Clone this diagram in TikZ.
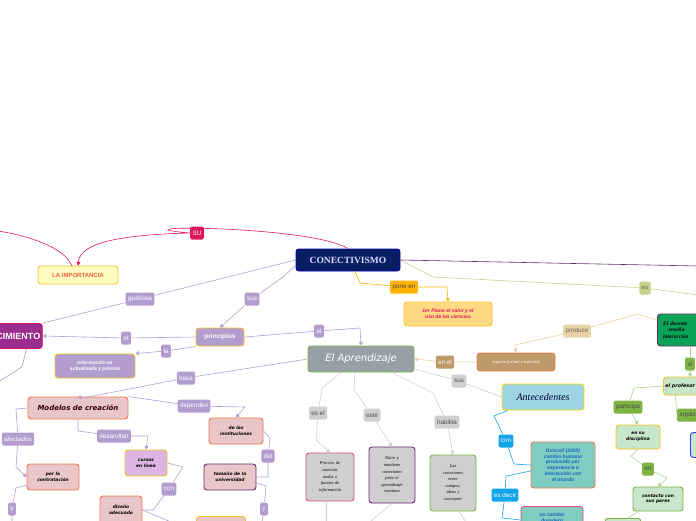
\documentclass[tikz,border=0pt]{standalone}
\usepackage{fontspec}
\setmainfont{Liberation Serif}
\setsansfont{Liberation Sans}
\newfontfamily\hand{DejaVu Sans}
\usetikzlibrary{arrows.meta}
\definecolor{lp}{HTML}{B39DCF}
\definecolor{lg}{HTML}{CFCFCF}
\definecolor{pk}{HTML}{E0195D}
\definecolor{cpink}{HTML}{E9C6C7}
\definecolor{orb}{HTML}{F07850}
\definecolor{yb}{HTML}{F5C321}
\definecolor{gr}{HTML}{7CB342}
\definecolor{lgr}{HTML}{C8E6C9}
\definecolor{tan}{HTML}{E8D2A6}
\definecolor{cy}{HTML}{12A5E8}
\definecolor{teal}{HTML}{7ECDC0}
\definecolor{dpur}{HTML}{6A2A72}
\definecolor{navy}{HTML}{0A1F63}
\definecolor{mag}{HTML}{9B2D8F}
\definecolor{gry}{HTML}{979FA8}
\definecolor{lil}{HTML}{DCB5E2}
\definecolor{ylw}{HTML}{FFD983}
\definecolor{brn}{HTML}{BE9A6A}
\definecolor{lbl}{HTML}{9FD4E3}
\definecolor{dblue}{HTML}{1565C0}
\definecolor{dgr}{HTML}{0BA456}
\definecolor{amb}{HTML}{FFB300}
\definecolor{olv}{HTML}{C5D18C}
\tikzset{
 lab/.style={fill=#1,text=white,rounded corners=1.5pt,font=\sffamily\fontsize{6.3}{7}\selectfont,inner sep=2.4pt,minimum height=13pt},
 lab/.default=lp,
 box/.style={rounded corners=3pt,draw=#1,line width=0.9pt,align=center,inner sep=2pt},
 con/.style={draw=#1,line width=0.6pt},
 arr/.style={-{Triangle[width=4pt,length=3.5pt]}},
 tiny/.style={font=\hand\itshape\bfseries\fontsize{4.4}{5.6}\selectfont},
 ser/.style={font=\itshape\fontsize{4.5}{6.6}\selectfont},
}
\begin{document}
\begin{tikzpicture}[x=1pt,y=-1pt]
\useasboundingbox (0,0) rectangle (696,520);
% nodes
\node[box=blue!70!black,fill=navy,text=white!85!blue,font=\bfseries\fontsize{9.5}{10}\selectfont,minimum width=104pt,minimum height=22pt] (con) at (348,260) {CONECTIVISMO};
\node[box=yb,fill=yellow!25,text=orb!80!red,font=\sffamily\bfseries\fontsize{6}{7}\selectfont,minimum width=80pt,minimum height=18pt] (imp) at (78,275) {LA IMPORTANCIA};
\node[box=pk!70!purple,fill=mag,text=white,font=\sffamily\bfseries\fontsize{9}{10}\selectfont,minimum height=25pt,anchor=west] (cim) at (-6,336) {CIMIENTO};
\node[box=yb,fill=lp,text=white,font=\sffamily\bfseries\fontsize{6.5}{7}\selectfont,minimum width=48pt,minimum height=18pt] (pri) at (220,337) {principios};
\node[box=yb,fill=lp,text=white,font=\sffamily\bfseries\itshape\fontsize{5}{6.3}\selectfont,minimum width=80pt,minimum height=24pt] (inf) at (95,366) {Información es\\actualizada y precisa};
\node[box=gr,fill=gry,text=white,font=\hand\itshape\fontsize{10}{11}\selectfont,minimum width=106pt,minimum height=26pt] (apr) at (361,359) {El Aprendizaje};
\node[box=orb,fill=cpink,text=black!80!red,font=\hand\itshape\bfseries\fontsize{7}{8}\selectfont,minimum width=100pt,minimum height=22pt] (mod) at (78,408) {Modelos de creación};
\node[box=orb,fill=cpink,tiny,minimum width=54pt,minimum height=26pt] (ins) at (236,431) {de las\\instituciones};
\node[box=yb,fill=lil,tiny,minimum width=42pt,minimum height=26pt] (cur) at (146,463) {cursos\\en línea};
\node[box=orb,fill=cpink,tiny,minimum width=52pt,minimum height=26pt] (por) at (53,477) {por la\\contratación};
\node[box=orb,fill=cpink,tiny,minimum width=42pt,minimum height=28pt] (dis) at (121,510) {diseño\\adecuado};
\node[box=dpur,fill=cpink,tiny,minimum width=52pt,minimum height=26pt] (tam) at (230,477) {tamaño de la\\universidad};
\node[box=yb,fill=cpink,minimum width=49pt,minimum height=12pt,anchor=north] (ybx) at (221,516) {};
\node[box=pk!80,fill=lg,ser,text width=44pt,minimum height=48pt] (pro) at (330,477) {Proceso de\\conectar\\nodos o\\fuentes de\\información};
\node[box=dpur,fill=lg,ser,text width=42pt,minimum height=56pt] (nut) at (392,475) {Nutre y\\mantiene\\conexiones\\para el\\aprendizaje\\continuo};
\node[box=gr,fill=lg,ser,text width=42pt,minimum height=56pt] (las) at (453,483) {Las\\conexiones\\entre\\campos,\\ideas y\\conceptos};
\node[box=yb,fill=ylw,text=pk,font=\sffamily\bfseries\itshape\fontsize{5}{6}\selectfont,minimum width=88pt,minimum height=24pt] (pla) at (448,314) {1er Plano el valor y el\\uso de las ciencias};
\node[box=orb,fill=brn,text=white,font=\itshape\fontsize{4.6}{5}\selectfont,minimum width=78pt,minimum height=18pt] (esp) at (516,362) {espacio formal e informal};
\node[box=yellow!80!orange,fill=lbl,text=black!80!blue,font=\itshape\fontsize{10}{11}\selectfont,minimum width=82pt,minimum height=26pt] (ant) at (543,397) {Antecedentes};
\node[box=orb,fill=teal,text=dblue,font=\sffamily\bfseries\itshape\fontsize{5}{5.8}\selectfont,minimum width=64pt,minimum height=46pt] (dri) at (563,465) {Driscoll (2000)\\cambio humano\\producido por\\experiencia e\\interacción con\\el mundo};
\node[box=pk!80,fill=teal,text=dblue,font=\sffamily\bfseries\itshape\fontsize{5}{5.8}\selectfont,minimum width=62pt,minimum height=22pt,anchor=north] (dur) at (552,506) {un cambio\\duradero};
\node[box=dpur,fill=dgr,font=\bfseries\itshape\fontsize{5.5}{6.5}\selectfont,minimum height=32pt,text width=50pt,anchor=west,align=left] (doc) at (657,330) {\ \ El docente\\\ \ \ \ \ enseña\\\ \ interacción};
\node[box=yb,fill=lgr,font=\hand\bfseries\itshape\fontsize{4.8}{5}\selectfont,minimum height=18pt,text width=40pt,align=left,anchor=west] (prf) at (663,386) {el profesor};
\node[box=yb,fill=lgr,tiny,minimum width=44pt,minimum height=24pt] (dsc) at (638,437) {en su\\disciplina};
\node[box=blue!80,fill=lgr,minimum width=20pt,minimum height=25pt,anchor=west] (blu) at (690,445) {};
\node[box=gr,fill=lgr,tiny,minimum width=50pt,minimum height=24pt] (par) at (658,499) {contacto con\\sus pares};
\node[box=gr,fill=lgr,minimum width=36pt,minimum height=10pt,anchor=north] (bot) at (623,518) {};
% labels
\node[lab=pk] (su) at (197,233) {SU};
\node[lab] (ges) at (140,299) {gestiona};
\node[lab] (sus1) at (252,299) {sus};
\node[lab] (el1) at (126,338) {el};
\node[lab] (la) at (166,351) {la};
\node[lab] (el2) at (319,331) {el};
\node[lab] (bas) at (186,378) {basa};
\node[lab] (dep) at (194,406) {dependen};
\node[lab] (des) at (114,436) {desarollan};
\node[lab] (afe) at (18,439) {afectados};
\node[lab] (y1) at (12,509) {y};
\node[lab] (con2) at (169,489) {con};
\node[lab] (del) at (268,456) {del};
\node[lab] (y2) at (264,509) {y};
\node[lab=lg,text=black!70] (esel) at (318,413) {es el};
\node[lab=lg,text=black!70] (este) at (372,415) {este};
\node[lab=lg,text=black!70] (hab) at (447,422) {habilita};
\node[lab=amb,text=black!70] (pon) at (404,287) {pone en};
\node[lab=brn] (enel) at (445,362) {en el};
\node[lab=tan,text=black!60] (prod) at (577,331) {produce};
\node[lab=lg,text=black!70] (sus2) at (459,381) {sus};
\node[lab=cy] (con3) at (506,441) {con};
\node[lab=cy] (esd) at (505,495) {es decir};
\node[lab=olv,text=black!60] (es) at (645,288) {es};
\node[lab=gr,text=black!70] (el3) at (690,364) {el};
\node[lab=gr,text=black!70] (par1) at (628,407) {participa};
\node[lab=gr,text=black!70,anchor=west] (impl) at (677,415) {implica};
\node[lab=gr,text=black!70] (en) at (648,469) {en};
% connectors
\draw[con=pk,arr] (con.north) .. controls (310,225) and (100,225) .. (su.west) (su.west) .. controls (110,235) and (80,245) .. (imp.north);
\draw[con=pk] (-2,231) .. controls (30,236) and (65,248) .. (72,266);
\draw[con=lp] (con.west) -- (ges) -- (cim.north east);
\draw[con=lp,arr] ([yshift=6pt]con.south west) -- (283,277) -- (sus1) -- (pri.north);
\draw[con=lp,arr] (pri.west) -- (el1) -- (cim.east);
\draw[con=lp,arr] (pri.south west) -- (la) -- (inf.north east);
\draw[con=lp,arr] (pri.east) -- (el2) -- (360,328) -- (apr.north);
\draw[con=lp] (cim.south) ++(8,0) -- (22,367) -- (-2,382);
\draw[con=lp,arr] (apr.west) -- (bas) -- (83,398) -- (mod.north);
\draw[con=lp,arr] (mod.north east) -- (dep) -- (245,407) -- (ins.north);
\draw[con=lp,arr] (78,419) -- (78,431) -- (des) -- (148,436) -- (cur.north);
\draw[con=lp,arr] (mod.west) -- (16,409) -- (afe) -- (16,467) -- (por.west);
\draw[con=lp] (por.west) ++(0,8) -- (16,488) -- (y1) -- (12,522);
\draw[con=lp] (cur.east) -- (183,467) -- (con2) -- (153,510) -- (dis.east);
\draw[con=lp] (dis.east) -- (171,522);
\draw[con=lp] (ins.east) -- (270,438) -- (del) -- (268,477) -- (tam.east);
\draw[con=lp] (tam.east) ++(0,6) -- (266,486) -- (y2) -- (262,522);
\draw[con=lg,arr] ([xshift=-20pt]apr.south) -- (322,388) -- (esel) -- (316,440) -- (pro.north);
\draw[con=lg,arr] ([xshift=-6pt]apr.south) -- (354,390) -- (este) -- (nut.north);
\draw[con=lg,arr] ([xshift=31pt]apr.south) -- (433,393) -- (hab) -- (las.north);
\draw[con=lg] (pro.south) ++(-4,0) -- (326,522);
\draw[con=lg] (nut.south) -- (370,522);
\draw[con=lg] (las.south) ++(6,0) -- (466,522);
\draw[con=amb,arr] ([xshift=7pt]con.south) -- (360,283) -- (pon) -- (447,287) -- (pla.north);
\draw[con=tan,arr] (esp.west) -- (enel) -- (apr.east);
\draw[con=tan,arr] (doc.west) ++(0,-10) -- (638,314) -- (prod) -- (515,345) -- (esp.north);
\draw[con=lg] (apr.east) ++(0,10) -- (sus2) -- (ant.west);
\draw[con=cy] (ant.south west) ++(6,0) -- (494,416) -- (con3) -- (514,464) -- (dri.west);
\draw[con=cy] (dri.west) ++(0,6) -- (506,476) -- (esd) -- (502,518) -- (521,520);
\draw[con=olv] (con.east) -- (433,277) -- (es) -- (698,295);
\draw[con=dpur] (con.east) -- (698,266);
\draw[con=lgr!60!gr,arr] (690,347) -- (el3) -- (690,377);
\draw[con=lgr!60!gr,arr] (prf.west) -- (634,388) -- (par1) -- (dsc.north);
\draw[con=lgr!60!gr] (prf.south) ++(-10,0) -- (impl.west);
\draw[con=lgr!60!gr,arr] (dsc.south) -- (631,456) -- (en) -- (667,478) -- (par.north);
\draw[con=lgr!60!gr] (par.south west) ++(6,0) -- (628,518);
\end{tikzpicture}
\end{document}
